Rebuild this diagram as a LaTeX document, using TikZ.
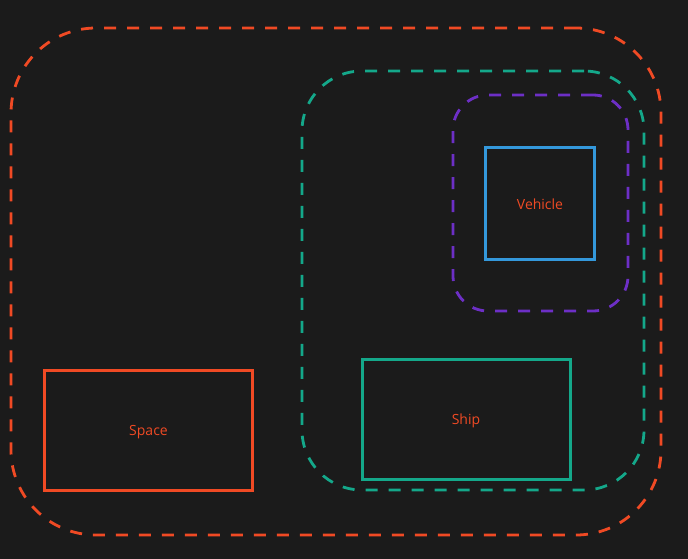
\documentclass[tikz,border=0pt]{standalone}
\usepackage{fontspec}
\setmainfont{Open Sans}
\definecolor{bg}{HTML}{1B1B1B}
\definecolor{corange}{HTML}{F04A24}
\definecolor{cteal}{HTML}{14A88A}
\definecolor{cpurple}{HTML}{6D2FC6}
\definecolor{cblue}{HTML}{3498DB}
\newcommand{\lbltext}[1]{\raisebox{-5.7pt}[0pt][0pt]{#1}}
\begin{document}
\begin{tikzpicture}[x=1pt,y=-1pt,
  group/.style={draw, rectangle, line width=2.8pt, dash pattern=on 12pt off 11pt, inner sep=0pt},
  entity/.style={draw, rectangle, line width=3pt, inner sep=0pt, text=corange, font=\fontsize{14}{16}\selectfont}]
\fill[bg] (0,0) rectangle (688,559);
\useasboundingbox (0,0) rectangle (688,559);
\node[group, draw=corange, minimum width=650pt, minimum height=507pt, rounded corners=85pt] (outer) at (336,281.5) {};
\node[group, draw=cteal, minimum width=342pt, minimum height=419pt, rounded corners=60pt] (shipgrp) at (473,280.5) {};
\node[group, draw=cpurple, minimum width=175pt, minimum height=216pt, rounded corners=35pt] (vehgrp) at (540.5,203) {};
\node[entity, draw=cblue, minimum width=109pt, minimum height=111pt] (vehicle) at (540,203.5) {\lbltext{Vehicle}};
\node[entity, draw=corange, minimum width=208pt, minimum height=120pt] (space) at (148.5,430) {\lbltext{Space}};
\node[entity, draw=cteal, minimum width=208pt, minimum height=120pt] (ship) at (466,419) {\lbltext{Ship}};
\end{tikzpicture}
\end{document}
